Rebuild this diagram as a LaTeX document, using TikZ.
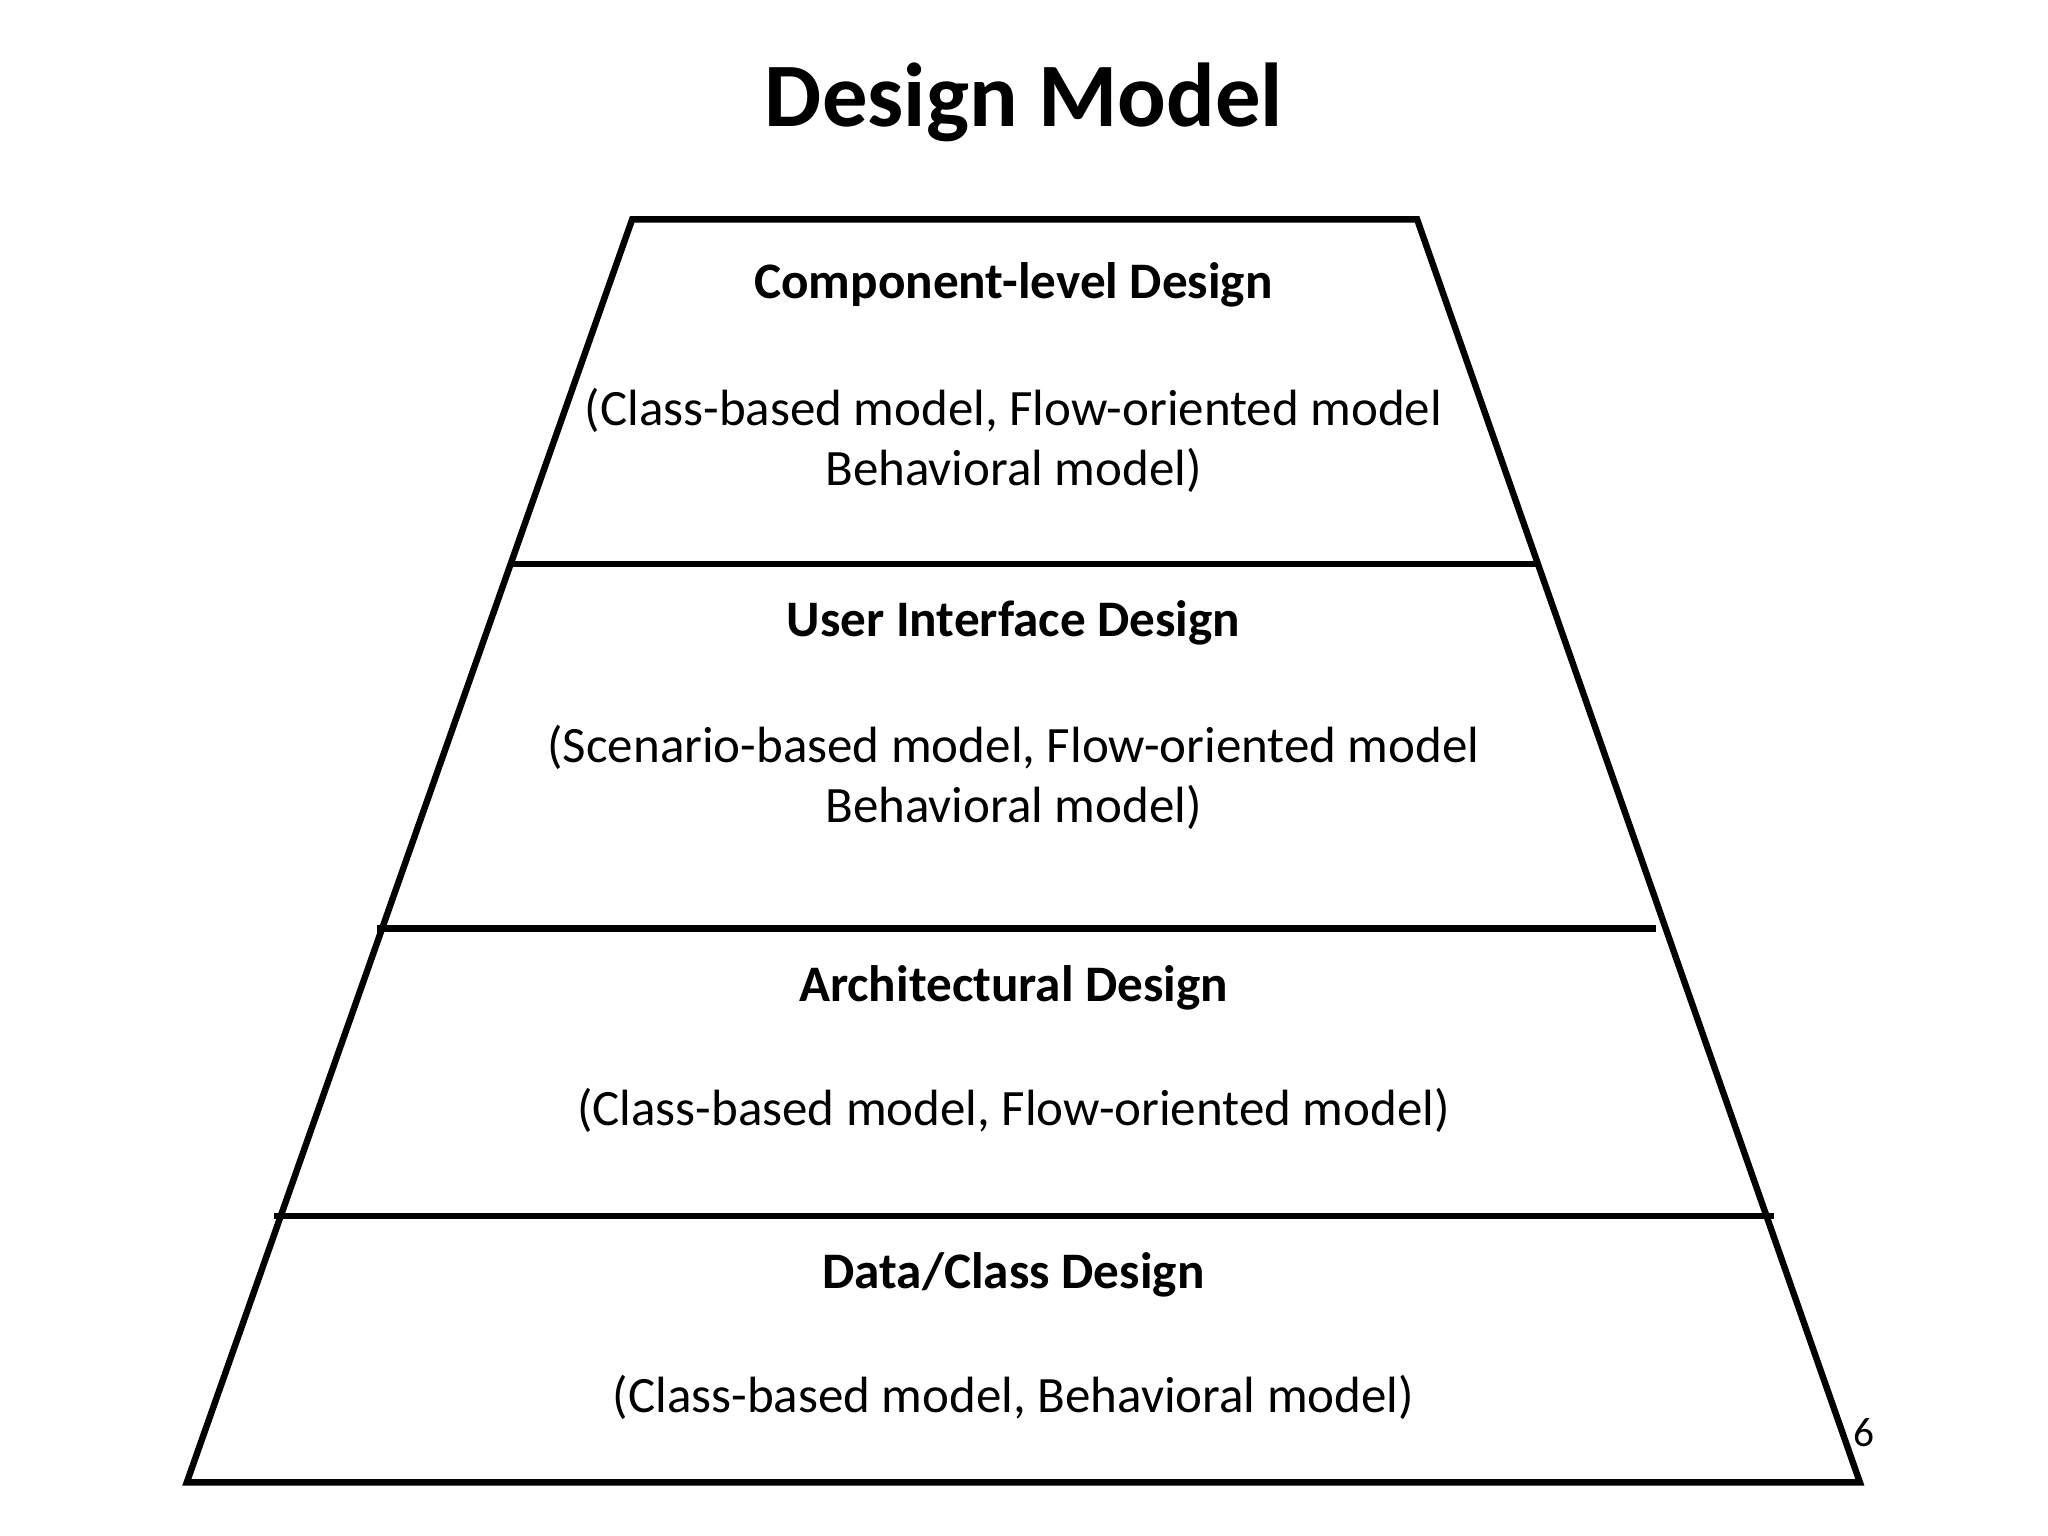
\documentclass[tikz,border=0pt]{standalone}
\usepackage{fontspec}
\setmainfont{Carlito}
\begin{document}
\begin{tikzpicture}[x=0.01cm,y=-0.01cm,
  ln/.style={line width=1.4pt},
  hd/.style={font=\fontsize{11.15}{13}\selectfont\bfseries},
  bd/.style={font=\fontsize{11.1}{13.1}\selectfont,align=center}]
\useasboundingbox (0,0) rectangle (1568,1176);
\node[font=\fontsize{19.75}{22}\selectfont\bfseries] (title) at (784,78) {Design Model};
\coordinate (tl) at (484,168); \coordinate (tr) at (1085,168);
\coordinate (bl) at (143,1135); \coordinate (br) at (1424,1135);
\draw[ln] (tl) -- (tr) -- (br) -- (bl) -- cycle;
\coordinate (a1) at (391,432); \coordinate (a2) at (1176,432);
\coordinate (b1) at (289,711); \coordinate (b2) at (1268,711);
\coordinate (c1) at (210,931); \coordinate (c2) at (1358,931);
\draw[ln] (a1) -- (a2);
\draw[ln] (b1) -- (b2);
\draw[ln] (c1) -- (c2);
\node[hd] (h1) at (776,218) {Component-level Design};
\node[bd] (t1) at (776,337) {(Class-based model, Flow-oriented model\\Behavioral model)};
\node[hd] (h2) at (776,477) {User Interface Design};
\node[bd] (t2) at (776,595) {(Scenario-based model, Flow-oriented model\\Behavioral model)};
\node[hd] (h3) at (776,756) {Architectural Design};
\node[bd] (t3) at (776,850) {(Class-based model, Flow-oriented model)};
\node[hd] (h4) at (776,976) {Data/Class Design};
\node[bd] (t4) at (776,1070) {(Class-based model, Behavioral model)};
\node[font=\fontsize{9}{10}\selectfont] (pg) at (1427,1097) {6};
\end{tikzpicture}
\end{document}
